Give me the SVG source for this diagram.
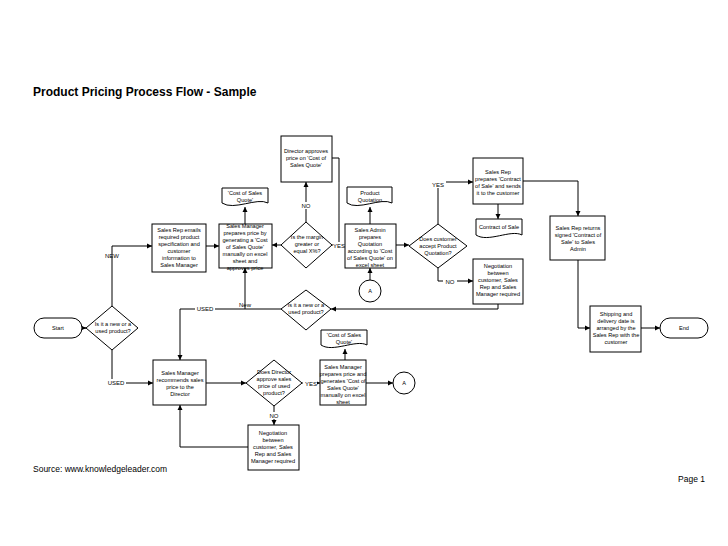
<svg xmlns="http://www.w3.org/2000/svg" width="728" height="546" viewBox="0 0 728 546">
<defs>
<marker id="ar" markerWidth="6" markerHeight="6" refX="5" refY="3" orient="auto" markerUnits="userSpaceOnUse"><path d="M0,0.5 L5,3 L0,5.5 z" fill="#000"/></marker>
</defs>
<style>
.b{fill:#fff;stroke:#000;stroke-width:1}
.c{fill:none;stroke:#000;stroke-width:1;marker-end:url(#ar)}
.n{fill:none;stroke:#000;stroke-width:1}
text{font-family:"Liberation Sans",Arial,sans-serif;font-size:5.6px;fill:#000;text-anchor:middle}
.l{font-size:6px}
</style>
<rect width="728" height="546" fill="#fff"/>
<text x="33" y="96" style="font-size:12px;font-weight:bold;text-anchor:start">Product Pricing Process Flow - Sample</text>
<text x="33" y="472" style="font-size:8.5px;text-anchor:start">Source:  www.knowledgeleader.com</text>
<text x="705" y="482" style="font-size:8.5px;text-anchor:end">Page 1</text>

<g id="connectors">
<path class="n" d="M82,328 H86"/><path class="c" d="M82,328 H86"/>
<path class="c" d="M112,306 V246 H152"/>
<path class="c" d="M112,350 V383 H153"/>
<path class="c" d="M206,246 H219"/>
<path class="c" d="M245,224 V207"/>
<path class="c" d="M281,245 H272"/>
<path class="c" d="M306,222 V182"/>
<path class="c" d="M332,245 H345"/>
<path class="n" d="M332,158 H339 V245"/>
<path class="c" d="M370,224 V207"/>
<path class="c" d="M370,280 V268"/>
<path class="c" d="M396,245 H409"/>
<path class="c" d="M438,224 V182 H473"/>
<path class="c" d="M438,268 V281 H473"/>
<path class="c" d="M498,204 V219"/>
<path class="c" d="M498,304 V309 H331"/>
<path class="c" d="M523,181 H578 V216"/>
<path class="c" d="M578,260 V328 H590"/>
<path class="c" d="M641,328 H660"/>
<path class="c" d="M281,309 H180 V360"/>
<path class="c" d="M245,309 V268"/>
<path class="c" d="M206,383 H246"/>
<path class="c" d="M302,383 H320"/>
<path class="c" d="M345,360 V349"/>
<path class="c" d="M366,383 H393"/>
<path class="c" d="M274,406 V425"/>
<path class="c" d="M248,447 H180 V405"/>
<text class="l" x="112" y="258" style="fill:#000">NEW</text>
<rect x="106" y="379" width="20" height="7" fill="#fff"/><text class="l" x="116" y="385">USED</text>
<rect x="195" y="305" width="20" height="7" fill="#fff"/><text class="l" x="205" y="311">USED</text>
<text class="l" x="245" y="307">New</text>
<rect x="298" y="202" width="16" height="7" fill="#fff"/><text class="l" x="306" y="208">NO</text>
<rect x="333" y="242" width="12" height="7" fill="#fff"/><text class="l" x="339" y="248">YES</text>
<rect x="430" y="181" width="16" height="7" fill="#fff"/><text class="l" x="438" y="187">YES</text>
<rect x="443" y="278" width="14" height="7" fill="#fff"/><text class="l" x="450" y="284">NO</text>
<rect x="303" y="380" width="14" height="7" fill="#fff"/><text class="l" x="311" y="386">YES</text>
<rect x="267" y="412" width="14" height="7" fill="#fff"/><text class="l" x="274" y="418">NO</text>
</g>

<g id="start"><rect class="b" x="34" y="318" width="48" height="20" rx="10"/><text x="58" y="330">Start</text></g>
<g id="d1"><path class="b" d="M112,306 L138,328 L112,350 L86,328 z"/><text x="113" y="326"><tspan x="113">Is it a new or a</tspan><tspan x="113" dy="7">used product?</tspan></text></g>
<g id="srEmail"><rect class="b" x="152" y="224" width="54" height="48"/><text y="232"><tspan x="179">Sales Rep emails</tspan><tspan x="179" dy="7">required product</tspan><tspan x="179" dy="7">specification and</tspan><tspan x="179" dy="7">customer</tspan><tspan x="179" dy="7">information to</tspan><tspan x="179" dy="7">Sales Manager</tspan></text></g>
<g id="smPrep"><rect class="b" x="219" y="224" width="53" height="44"/><text y="228"><tspan x="245">Sales Manager</tspan><tspan x="245" dy="7">prepares price by</tspan><tspan x="245" dy="7">generating a 'Cost</tspan><tspan x="245" dy="7">of Sales Quote'</tspan><tspan x="245" dy="7">manually on excel</tspan><tspan x="245" dy="7">sheet and</tspan><tspan x="245" dy="7">approves price</tspan></text></g>
<g id="doc1"><path class="b" d="M222,188 H268 V203 C257,197 234,211 222,203 z"/><text y="195"><tspan x="245">'Cost of Sales</tspan><tspan x="245" dy="7">Quote'</tspan></text></g>
<g id="dMargin"><path class="b" d="M306,222 L332,245 L306,268 L281,245 z"/><text y="239"><tspan x="307">Is the margin</tspan><tspan x="307" dy="7">greater or</tspan><tspan x="307" dy="7">equal X%?</tspan></text></g>
<g id="director"><rect class="b" x="281" y="136" width="51" height="46"/><text y="153"><tspan x="306">Director approves</tspan><tspan x="306" dy="7">price on 'Cost of</tspan><tspan x="306" dy="7">Sales Quote'</tspan></text></g>
<g id="admin"><rect class="b" x="345" y="224" width="51" height="44"/><text y="232"><tspan x="370">Sales Admin</tspan><tspan x="370" dy="7">prepares</tspan><tspan x="370" dy="7">Quotation</tspan><tspan x="370" dy="7">according to 'Cost</tspan><tspan x="370" dy="7">of Sales Quote' on</tspan><tspan x="370" dy="7">excel sheet</tspan></text></g>
<g id="doc2"><path class="b" d="M347,187 H392 V203 C381,197 358,211 347,203 z"/><text y="195"><tspan x="370">Product</tspan><tspan x="370" dy="7">Quotation</tspan></text></g>
<g id="a1"><circle class="b" cx="370" cy="291" r="11"/><text x="370" y="293">A</text></g>
<g id="dAccept"><path class="b" d="M438,224 L467,246 L438,268 L409,246 z"/><text y="241"><tspan x="438">Does customer</tspan><tspan x="438" dy="7">accept Product</tspan><tspan x="438" dy="7">Quotation?</tspan></text></g>
<g id="srContract"><rect class="b" x="473" y="158" width="50" height="46"/><text y="174"><tspan x="498">Sales Rep</tspan><tspan x="498" dy="7">prepares 'Contract</tspan><tspan x="498" dy="7">of Sale' and sends</tspan><tspan x="498" dy="7">it to the customer</tspan></text></g>
<g id="doc3"><path class="b" d="M476,219 H522 V235 C511,229 488,243 476,235 z"/><text x="499" y="229">Contract of Sale</text></g>
<g id="neg1"><rect class="b" x="473" y="259" width="50" height="45"/><text y="268"><tspan x="498">Negotiation</tspan><tspan x="498" dy="7">between</tspan><tspan x="498" dy="7">customer, Sales</tspan><tspan x="498" dy="7">Rep and Sales</tspan><tspan x="498" dy="7">Manager required</tspan></text></g>
<g id="srReturn"><rect class="b" x="550" y="216" width="55" height="44"/><text y="230"><tspan x="578">Sales Rep returns</tspan><tspan x="578" dy="7">signed 'Contract of</tspan><tspan x="578" dy="7">Sale' to Sales</tspan><tspan x="578" dy="7">Admin</tspan></text></g>
<g id="ship"><rect class="b" x="590" y="306" width="51" height="46"/><text y="316"><tspan x="616">Shipping and</tspan><tspan x="616" dy="7">delivery date is</tspan><tspan x="616" dy="7">arranged by the</tspan><tspan x="616" dy="7">Sales Rep with the</tspan><tspan x="616" dy="7">customer</tspan></text></g>
<g id="end"><rect class="b" x="660" y="318" width="48" height="20" rx="10"/><text x="684" y="330">End</text></g>
<g id="dNewUsed"><path class="b" d="M306,290 L331,309 L306,330 L281,309 z"/><text y="307"><tspan x="306">Is it a new or a</tspan><tspan x="306" dy="7">used product?</tspan></text></g>
<g id="smRec"><rect class="b" x="153" y="360" width="53" height="45"/><text y="375"><tspan x="180">Sales Manager</tspan><tspan x="180" dy="7">recommends sales</tspan><tspan x="180" dy="7">price to the</tspan><tspan x="180" dy="7">Director</tspan></text></g>
<g id="dDirector"><path class="b" d="M274,360 L302,383 L274,406 L246,383 z"/><text y="374"><tspan x="274">Does Director</tspan><tspan x="274" dy="7">approve sales</tspan><tspan x="274" dy="7">price of used</tspan><tspan x="274" dy="7">product?</tspan></text></g>
<g id="smUsed"><rect class="b" x="320" y="360" width="46" height="45"/><text y="369"><tspan x="343">Sales Manager</tspan><tspan x="343" dy="7">prepares price and</tspan><tspan x="343" dy="7">generates 'Cost of</tspan><tspan x="343" dy="7">Sales Quote'</tspan><tspan x="343" dy="7">manually on excel</tspan><tspan x="343" dy="7">sheet</tspan></text></g>
<g id="doc4"><path class="b" d="M321,330 H367 V345 C356,339 333,353 321,345 z"/><text y="337"><tspan x="344">'Cost of Sales</tspan><tspan x="344" dy="7">Quote'</tspan></text></g>
<g id="a2"><circle class="b" cx="404" cy="383" r="11"/><text x="404" y="385">A</text></g>
<g id="neg2"><rect class="b" x="248" y="425" width="51" height="45"/><text y="435"><tspan x="273">Negotiation</tspan><tspan x="273" dy="7">between</tspan><tspan x="273" dy="7">customer, Sales</tspan><tspan x="273" dy="7">Rep and Sales</tspan><tspan x="273" dy="7">Manager required</tspan></text></g>
</svg>
